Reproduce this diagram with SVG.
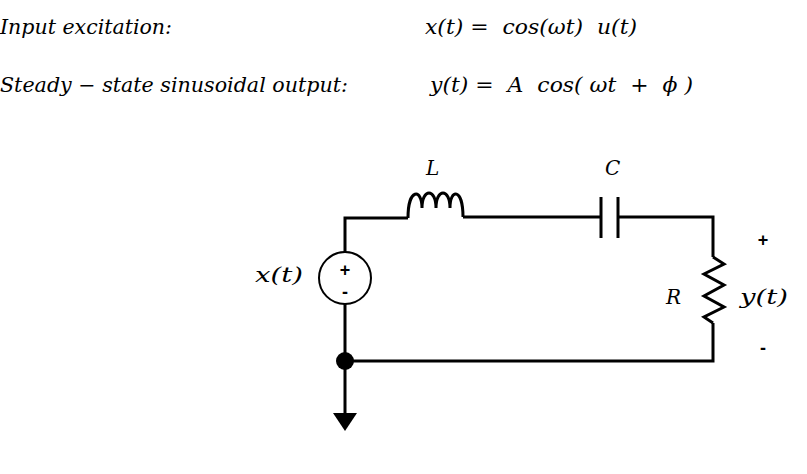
<svg xmlns="http://www.w3.org/2000/svg" width="807" height="474" viewBox="0 0 807 474">
<style>
.t{font-family:"DejaVu Serif","Liberation Serif",serif;font-style:italic;font-size:20px;fill:#000}
.w{fill:none;stroke:#000;stroke-width:3;stroke-linejoin:miter}
.s{font-family:"Liberation Sans",sans-serif;font-weight:bold;font-size:18px;fill:#000}
</style>
<rect width="807" height="474" fill="#fff"/>
<text class="t" x="0" y="34" textLength="172" lengthAdjust="spacingAndGlyphs">Input excitation:</text>
<text class="t" x="0" y="92" textLength="348" lengthAdjust="spacingAndGlyphs">Steady − state sinusoidal output:</text>
<text class="t" x="425" y="34" xml:space="preserve" textLength="212" lengthAdjust="spacingAndGlyphs">x(t) =  cos(ωt)  u(t)</text>
<text class="t" x="430" y="92" xml:space="preserve" textLength="263" lengthAdjust="spacingAndGlyphs">y(t) =  A  cos( ωt  +  ϕ )</text>
<g id="connectors">
<path class="w" d="M345 252 V218 H408 M463 217 H601 M618 217 H713 V257 M713 323 V361 H345 M345 304 V413"/>
</g>
<g id="L"><path class="w" d="M408 218 C408 188 422 188 422 208 C422 188 436 188 436 208 C436 188 450 188 450 208 C450 188 463 188 463 217"/><text class="t" x="426" y="175">L</text></g>
<g id="C"><path class="w" d="M601 197 V238 M618 197 V238"/><text class="t" x="605" y="175">C</text></g>
<g id="R"><path class="w" d="M713 257 L724 264 L704 274 L724 285 L704 296 L724 307 L704 317 L713 323"/><text class="t" x="666" y="304">R</text></g>
<g id="src"><circle cx="345" cy="278" r="26" fill="#fff" stroke="#000" stroke-width="2"/><text class="s" x="345" y="276" text-anchor="middle">+</text><text class="s" x="345" y="298" text-anchor="middle">-</text><text class="t" x="255" y="282" textLength="48" lengthAdjust="spacingAndGlyphs">x(t)</text></g>
<g id="gnd"><circle cx="345" cy="361" r="9" fill="#000"/><path d="M333 413 H357 L345 431 Z" fill="#000"/></g>
<g id="out"><text class="s" x="763" y="246" text-anchor="middle">+</text><text class="t" x="740" y="304" textLength="48" lengthAdjust="spacingAndGlyphs">y(t)</text><text class="s" x="763" y="354" text-anchor="middle">-</text></g>
</svg>
